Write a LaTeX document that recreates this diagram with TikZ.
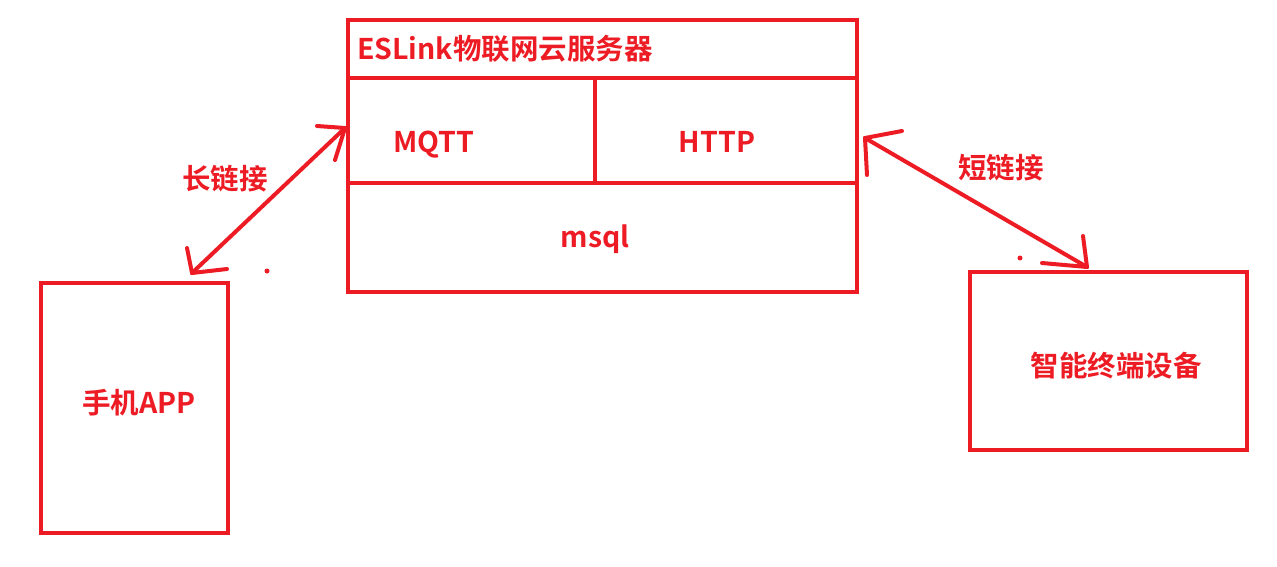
\documentclass[tikz,border=0pt]{standalone}
\usepackage{fontspec}
\setmainfont{Noto Sans CJK SC}[BoldFont={Noto Sans CJK SC Bold}]
\definecolor{pred}{HTML}{ED1C24}
\begin{document}
\begin{tikzpicture}[x=1pt,y=-1pt,
  box/.style={draw=pred,line width=4pt},
  ln/.style={draw=pred,line width=4pt,line cap=round},
  lbl/.style={text=pred,font=\fontsize{28.5}{31}\selectfont\bfseries,inner sep=0pt}]
\useasboundingbox (0,0) rectangle (1277,567);
% server box
\draw[box] (348,20) rectangle (857,292);
\draw[box] (348,78) -- (857,78);
\draw[box] (348,183) -- (857,183);
\draw[box] (595,78) -- (595,185);
\node[lbl,anchor=base west] (title) at (357,60) {ESLink物联网云服务器};
\node[lbl,anchor=base] (mqtt) at (434,153) {MQTT};
\node[lbl,anchor=base] (http) at (717,153) {HTTP};
\node[lbl,anchor=base] (msql) at (595,247) {msql};
% phone box
\draw[box] (41,283) rectangle (228,533);
\node[lbl] (app) at (139,403) {手机APP};
% device box
\draw[box] (970,272) rectangle (1247,450);
\node[lbl] (dev) at (1116,366) {智能终端设备};
% arrows
\coordinate (la) at (192,273);
\coordinate (lb) at (345,128);
\draw[ln] (la) -- (lb);
\draw[ln] (lb) -- (317,126);
\draw[ln] (lb) -- (335,160);
\draw[ln] (la) -- (187,248);
\draw[ln] (la) -- (227,269);
\node[lbl] (long) at (225,179) {长链接};
\coordinate (ra) at (865,138);
\coordinate (rb) at (1087,267);
\draw[ln] (ra) -- (rb);
\draw[ln] (ra) -- (902,131);
\draw[ln] (ra) -- (867,175);
\draw[ln] (rb) -- (1083,236);
\draw[ln] (rb) -- (1042,263);
\node[lbl] (short) at (1001,168) {短链接};
% dots
\fill[pred] (267,271) circle (2.5);
\fill[pred] (1020,258) circle (2.5);
\end{tikzpicture}
\end{document}
